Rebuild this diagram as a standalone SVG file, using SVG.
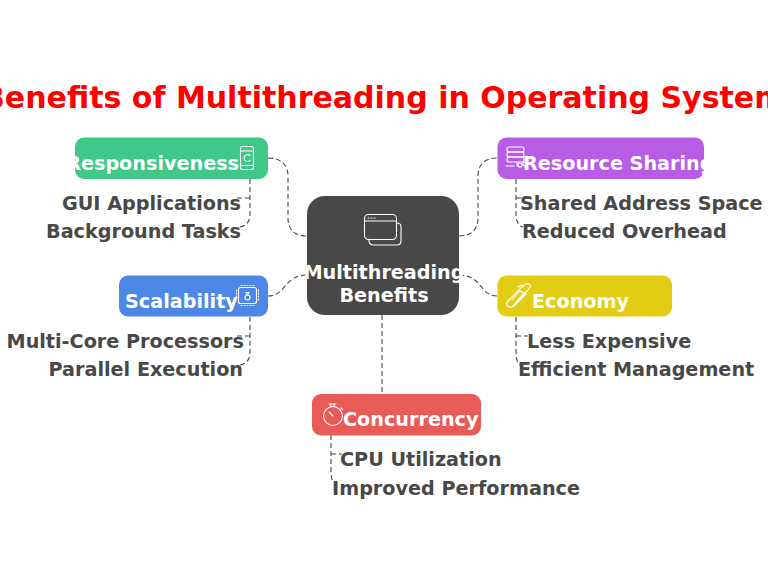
<svg xmlns="http://www.w3.org/2000/svg" width="768" height="576" viewBox="0 0 768 576">
<style>
text{font-family:"DejaVu Sans",sans-serif;font-weight:700}
.t{font-size:19.2px;fill:#fff}
.i{font-size:19.2px;fill:#484848}
.c{fill:none;stroke:#484848;stroke-width:1.1;stroke-dasharray:5 3}
.g{fill:none;stroke:#fff;stroke-width:1.1;stroke-linecap:round;stroke-linejoin:round}
</style>
<rect width="768" height="576" fill="#fff"/>
<text id="title" x="-18" y="107.500" style="font-size:30px;fill:#ff0000">Benefits of Multithreading in Operating Systems</text>
<g id="connectors">
<path class="c" d="M268 158C280 158 288 164 288 176V218C288 230 295 236 307 236"/>
<path class="c" d="M268 296C286 296 284 275 307 275"/>
<path class="c" d="M459 236C471 236 478 230 478 218V176C478 164 485 158 497 158"/>
<path class="c" d="M459 275C482 275 480 296 497 296"/>
<path class="c" d="M382 315V394"/>
<path class="c" d="M250 179V215C250 222 245 227 239 227"/>
<path class="c" d="M250 198H235"/>
<path class="c" d="M250 317V353C250 360 245 365 239 365"/>
<path class="c" d="M250 336H235"/>
<path class="c" d="M516 179V215C516 222 520 227 523 227"/>
<path class="c" d="M516 198H522"/>
<path class="c" d="M516 317V353C516 360 518 363 520 365"/>
<path class="c" d="M516 336H528"/>
<path class="c" d="M331 435V471C331 478 332 481 335 483"/>
<path class="c" d="M331 454H342"/>
</g>
<g id="center">
<rect x="307" y="196" width="152" height="119" rx="18" fill="#484848"/>
<path class="g" d="M369 239V241C369 243 371 245 373 245H397C400 245 401 243 401 241V227C401 225 400 223 397 223"/>
<rect class="g" x="364.500" y="214.500" width="32" height="25" rx="4"/>
<path class="g" d="M365 221H396"/>
<path class="g" d="M368 218H369M371 218H372M374 218H375"/>
<text x="384" y="278.500" text-anchor="middle" class="t">Multithreading</text>
<text x="384" y="301.500" text-anchor="middle" class="t">Benefits</text>
</g>
<g id="responsiveness">
<rect x="75" y="137.500" width="193" height="41.500" rx="9" fill="#3fc887"/>
<rect class="g" x="240.500" y="146.500" width="13" height="23" rx="2"/>
<path class="g" d="M241 151H253M241 165.500H253M250 155.500A3.500 3.500 0 1 0 250.500 160"/>
<text x="239" y="170" text-anchor="end" class="t">Responsiveness</text>
</g>
<g id="resource-sharing">
<rect x="497.500" y="137.500" width="206.500" height="41.500" rx="9" fill="#b85ce6"/>
<rect class="g" x="507" y="147" width="17" height="5" rx="2"/>
<rect class="g" x="507" y="152" width="17" height="5" rx="2"/>
<rect class="g" x="507" y="157" width="17" height="5" rx="2"/>
<path class="g" d="M506 166H514M517 162V166"/>
<circle class="g" cx="520" cy="165" r="2"/>
<circle class="g" cx="525" cy="164" r="2"/>
<svg x="497.500" y="137.500" width="206.500" height="41.500" viewBox="497.500 137.500 206.500 41.500"><text x="523" y="170" class="t">Resource Sharing</text></svg>
</g>
<g id="scalability">
<rect x="119" y="275.500" width="149" height="41" rx="9" fill="#4d88e8"/>
<rect class="g" x="238.500" y="287.500" width="18" height="16" rx="2"/>
<path class="g" stroke-dasharray="1 2" d="M241 285.500H255M241 305.500H255M236.500 290V302M258.500 290V302"/>
<circle class="g" cx="247.500" cy="297.500" r="2.500"/>
<path class="g" d="M247.500 295L246 292.500H249Z"/>
<text x="125" y="308" class="t">Scalability</text>
</g>
<g id="economy">
<rect x="497.500" y="275.500" width="174.500" height="41" rx="9" fill="#e2cd14"/>
<path class="g" d="M512 307L528 290C531 287 531 285 529 284C527 283 525 284 523 286L508 301C506 303 506 305 508 306C510 308 513 307 515 305L526 294"/>
<path class="g" d="M512 300L520 291L524 293L516 302M518 287L522 285"/>
<text x="532" y="308" class="t">Economy</text>
</g>
<g id="concurrency">
<rect x="312" y="394" width="169" height="41.500" rx="9" fill="#e85b56"/>
<circle class="g" cx="333" cy="416" r="9.500"/>
<path class="g" d="M329 404H336M331 404V406.500M334 404V406.500M341 408L342.500 409.500M329 412L333 416"/>
<text x="343" y="426" class="t">Concurrency</text>
</g>
<g id="items">
<text x="241" y="210" text-anchor="end" class="i">GUI Applications</text>
<text x="241" y="238" text-anchor="end" class="i">Background Tasks</text>
<text x="244" y="348" text-anchor="end" class="i">Multi-Core Processors</text>
<text x="243" y="376" text-anchor="end" class="i">Parallel Execution</text>
<text x="520" y="210" class="i">Shared Address Space</text>
<text x="522" y="238" class="i">Reduced Overhead</text>
<text x="527" y="348" class="i">Less Expensive</text>
<text x="518" y="376" class="i">Efficient Management</text>
<text x="340" y="466" class="i">CPU Utilization</text>
<text x="332" y="495" class="i">Improved Performance</text>
</g>
</svg>
